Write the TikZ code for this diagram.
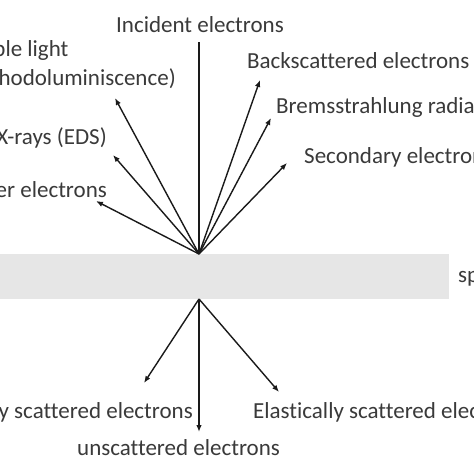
\documentclass[tikz,border=0pt]{standalone}
\usepackage{fontspec}
\setmainfont{Carlito}[Ligatures=NoCommon]
\usetikzlibrary{arrows.meta}
\definecolor{txtgray}{HTML}{3A3A3A}
\definecolor{linegray}{HTML}{1A1A1A}
\definecolor{specgray}{HTML}{E6E6E6}
\begin{document}
\begin{tikzpicture}[x=1pt,y=-1pt,
  lbl/.style={inner sep=0pt, font=\fontsize{23}{29.5}\selectfont, text=txtgray},
  beam/.style={line width=1.4pt, draw=linegray},
  ray/.style={beam, -{Latex[length=7pt,width=5.5pt]}}]
\useasboundingbox (0,0) rectangle (474,474);
\clip (0,0) rectangle (474,474);
\fill[white] (0,0) rectangle (474,474);
\fill[specgray] (0,254) rectangle (449,299);
% labels
\node[lbl, anchor=base] (inc) at (200,32) {Incident electrons};
\node[lbl, anchor=north east, align=left] (vis) at (176,40) {Visible light\\(Cathodoluminiscence)};
\node[lbl, anchor=base east] (xr) at (107,144) {X-rays (EDS)};
\node[lbl, anchor=base east] (aug) at (107,197) {Auger electrons};
\node[lbl, anchor=base west] (bse) at (247,68) {Backscattered electrons};
\node[lbl, anchor=base west] (brem) at (276,113) {Bremsstrahlung radiation};
\node[lbl, anchor=base west] (se) at (304,163) {Secondary electrons};
\node[lbl, anchor=base west] (spec) at (458,282) {specimen};
\node[lbl, anchor=base east] (inel) at (193,418) {Inelastically scattered electrons};
\node[lbl, anchor=base west] (unsc) at (77,455) {unscattered electrons};
\node[lbl, anchor=base west] (elas) at (253,418) {Elastically scattered electrons};
% points
\coordinate (inctop) at (199,42);
\coordinate (top) at (199,254);
\coordinate (bot) at (199,299);
\coordinate (visT) at (115,98);
\coordinate (xrT) at (113,155);
\coordinate (augT) at (96,201);
\coordinate (bseT) at (260,80);
\coordinate (bremT) at (271,118);
\coordinate (seT) at (287,163);
\coordinate (inelT) at (144,383);
\coordinate (unscT) at (199,432);
\coordinate (elasT) at (279,392);
% connectors
\draw[beam] (inctop) -- (top);
\foreach \t in {visT,xrT,augT,bseT,bremT,seT} \draw[ray] (top) -- (\t);
\foreach \t in {inelT,unscT,elasT} \draw[ray] (bot) -- (\t);
\end{tikzpicture}
\end{document}
